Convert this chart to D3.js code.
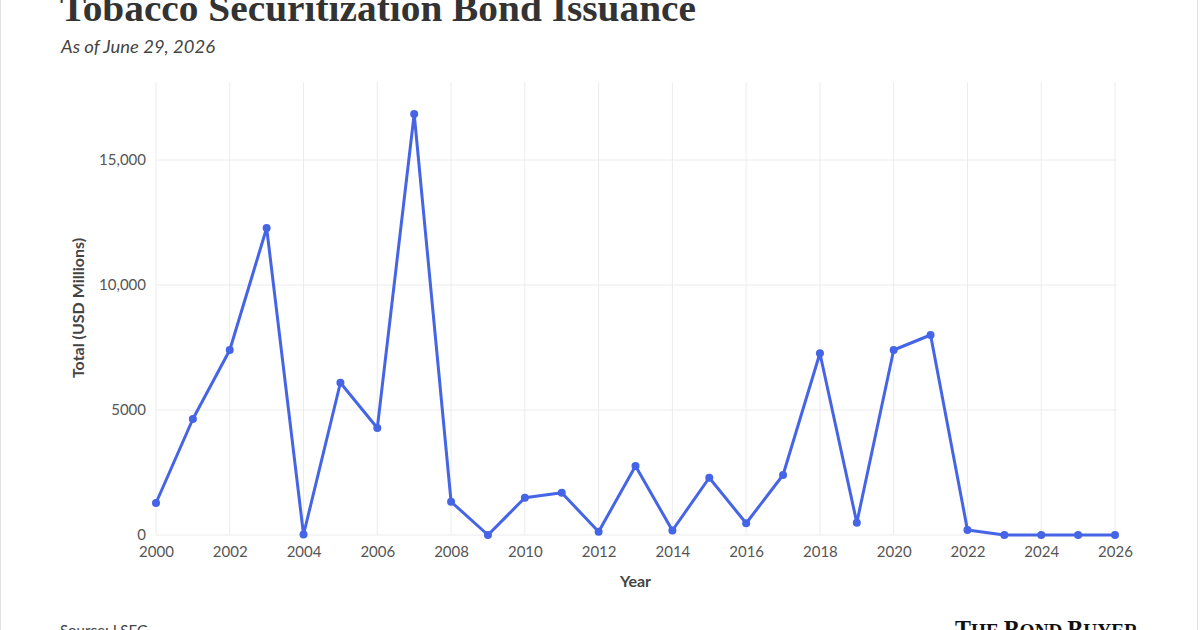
<!DOCTYPE html>
<html><head><meta charset="utf-8">
<script src="https://cdn.jsdelivr.net/npm/d3@7/dist/d3.min.js"></script>
<style>
html,body{margin:0;padding:0;background:#fff;}
svg{display:block;}
</style></head>
<body>
<svg id="c" width="1200" height="630"></svg>
<script>
const years = [2000,2001,2002,2003,2004,2005,2006,2007,2008,2009,2010,2011,2012,2013,2014,2015,2016,2017,2018,2019,2020,2021,2022,2023,2024,2025,2026];
const totals = [1280,4640,7400,12280,20,6090,4280,16840,1330,0,1490,1690,130,2760,180,2290,470,2400,7270,490,7400,8000,200,0,0,0,0];
const yTicks = [0,5000,10000,15000];
const yTickLabels = ["0","5000","10,000","15,000"];
const xTicks = [2000,2002,2004,2006,2008,2010,2012,2014,2016,2018,2020,2022,2024,2026];

const svg = d3.select("#c");
const W = 1200, H = 630;
const m = {left:156, right:85, top:82, bottom:95};
const x = d3.scaleLinear().domain([2000,2026]).range([m.left, W-m.right]);
const y = d3.scaleLinear().domain([0,18120]).range([H-m.bottom, m.top]);

svg.append("rect").attr("x",0.5).attr("y",-2).attr("width",W-3).attr("height",H+4)
  .attr("fill","#fff").attr("stroke","#e2e2e2");

// grid
svg.append("g").selectAll("line").data(xTicks).join("line")
  .attr("x1",d=>x(d)).attr("x2",d=>x(d)).attr("y1",m.top).attr("y2",y(0))
  .attr("stroke","#ececec").attr("stroke-width",1);
svg.append("g").selectAll("line").data(yTicks).join("line")
  .attr("x1",m.left).attr("x2",W-m.right+2).attr("y1",d=>y(d)).attr("y2",d=>y(d))
  .attr("stroke","#ececec").attr("stroke-width",1);

// axes
const yAxis = d3.axisLeft(y).tickValues(yTicks).tickFormat((d,i)=>yTickLabels[i]).tickSize(0).tickPadding(10);
const gy = svg.append("g").attr("transform",`translate(${m.left},0)`).call(yAxis);
gy.select(".domain").remove();
gy.selectAll("text").attr("font-family","Lato").attr("font-size",15).attr("fill","#555");

const xAxis = d3.axisBottom(x).tickValues(xTicks).tickFormat(d3.format("d")).tickSize(0).tickPadding(11);
const gx = svg.append("g").attr("transform",`translate(0,${y(0)})`).call(xAxis);
gx.select(".domain").remove();
gx.selectAll("text").attr("font-family","Lato").attr("font-size",15).attr("fill","#555");

// axis titles
svg.append("text").attr("transform",`translate(84,308) rotate(-90)`)
  .attr("text-anchor","middle").attr("font-family","Lato").attr("font-weight","bold")
  .attr("font-size",16).attr("fill","#444").text("Total (USD Millions)");
svg.append("text").attr("x",(m.left+W-m.right)/2).attr("y",587).attr("text-anchor","middle")
  .attr("font-family","Lato").attr("font-weight","bold").attr("font-size",16).attr("fill","#444").text("Year");

// line
const data = years.map((yr,i)=>({yr, v:totals[i]}));
svg.append("path").datum(data)
  .attr("d", d3.line().x(d=>x(d.yr)).y(d=>y(d.v)))
  .attr("fill","none").attr("stroke","#4565e6").attr("stroke-width",3).attr("stroke-linejoin","round");
svg.append("g").selectAll("circle").data(data).join("circle")
  .attr("cx",d=>x(d.yr)).attr("cy",d=>y(d.v)).attr("r",4).attr("fill","#4565e6");

// titles
svg.append("text").attr("x",60).attr("y",21).attr("font-family","Liberation Serif").attr("font-weight","bold")
  .attr("font-size",37).attr("fill","#333").attr("textLength",636).attr("lengthAdjust","spacingAndGlyphs")
  .text("Tobacco Securitization Bond Issuance");
svg.append("text").attr("x",61).attr("y",53).attr("font-family","Lato").attr("font-style","italic")
  .attr("font-size",18).attr("fill","#444").attr("textLength",154).attr("lengthAdjust","spacingAndGlyphs")
  .text("As of June 29, 2026");

// footer
svg.append("text").attr("x",60).attr("y",636).attr("font-family","Lato")
  .attr("font-size",15).attr("fill","#444").text("Source: LSEG");
const logo = svg.append("text").attr("x",955).attr("y",638).attr("font-family","Liberation Serif").attr("font-weight","bold")
  .attr("font-size",26).attr("fill","#111").attr("textLength",183).attr("lengthAdjust","spacingAndGlyphs");
logo.append("tspan").text("T");
logo.append("tspan").attr("font-size",21).text("HE ");
logo.append("tspan").text("B");
logo.append("tspan").attr("font-size",21).text("OND ");
logo.append("tspan").text("B");
logo.append("tspan").attr("font-size",21).text("UYER");
</script>
</body></html>
